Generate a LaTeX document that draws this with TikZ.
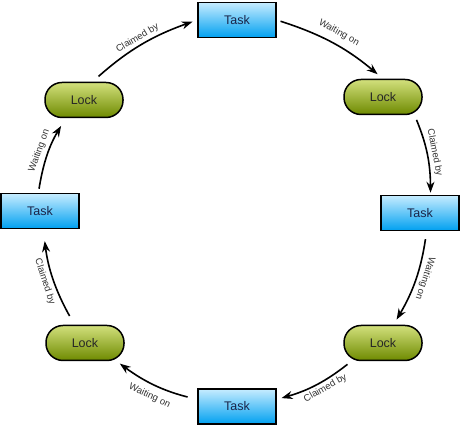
\documentclass[tikz,border=0pt]{standalone}
\usepackage{fontspec}
\setmainfont{Liberation Sans}
\usepackage{xcolor}
\usepackage{tikz}
\usetikzlibrary{
  arrows.meta,
  positioning,
}
\definecolor{taskhi}{HTML}{C6ECFF}
\definecolor{tasklo}{HTML}{00A0F0}
\definecolor{lockhi}{HTML}{D2E07C}
\definecolor{locklo}{HTML}{6E8A00}
\definecolor{tasktext}{HTML}{1A2448}

\begin{document}
\begin{tikzpicture}[
    x=1pt, y=1pt,
    task/.style={draw=black, line width=1.5pt, top color=taskhi, bottom color=tasklo,
      minimum width=78pt, minimum height=35pt, inner sep=0pt,
      font=\fontsize{12.5}{14}\selectfont, text=tasktext},
    lock/.style={draw=black, line width=1.5pt, top color=lockhi, bottom color=locklo,
      rounded corners=17pt, minimum width=78pt, minimum height=35pt, inner sep=0pt,
      font=\fontsize{12.5}{14}\selectfont, text=black!85},
    lbl/.style={font=\fontsize{9.5}{11}\selectfont, text=black!80, inner sep=2.5pt},
    flow/.style={-{Stealth[length=11pt,width=8pt]}, line width=1.6pt, bend left=11},
  ]
  \useasboundingbox (0,0) rectangle (474,425);

  % Tasks
  \node[task] (taskN) at (237,405) {Task};
  \node[task] (taskE) at (420,212) {Task};
  \node[task] (taskS) at (237,18.5) {Task};
  \node[task] (taskW) at (40,214) {Task};

  % Locks
  \node[lock] (lockNE) at (383,328) {Lock};
  \node[lock] (lockSE) at (383,82) {Lock};
  \node[lock] (lockSW) at (85,82) {Lock};
  \node[lock] (lockNW) at (84,325) {Lock};

  % Wait-for cycle
  \draw[flow, shorten <=8pt, shorten >=5pt] (lockNW.65) to
    node[lbl, midway, sloped, above] {Claimed by} (taskN.west);
  \draw[flow, shorten <=4pt, shorten >=7pt] (taskN.east) to
    node[lbl, pos=0.5, sloped, above, inner sep=7pt] {Waiting on} (lockNE.90);
  \draw[flow, shorten <=5pt, shorten >=2pt] (lockNE.-30) to
    node[lbl, midway, sloped, above] {Claimed by} (taskE.60);
  \draw[flow, shorten <=8pt, shorten >=6pt] (taskE.-70) to
    node[lbl, pos=0.45, sloped, allow upside down, above, inner sep=3.5pt] {Waiting on} (lockSE.60);
  \draw[flow, shorten <=5pt, shorten >=5pt] (lockSE.-150) to
    node[lbl, pos=0.42, sloped, below] {Claimed by} (taskS.10);
  \draw[flow, shorten <=10pt, shorten >=4pt] (taskS.170) to
    node[lbl, pos=0.5, sloped, below, inner sep=7pt] {Waiting on} (lockSW.-30);
  \draw[flow, shorten <=10pt, shorten >=12pt] (lockSW.120) to
    node[lbl, midway, sloped, below, inner sep=4pt] {Claimed by} (taskW.-80);
  \draw[flow, shorten <=4pt, shorten >=9pt] (taskW.95) to
    node[lbl, midway, sloped, above, inner sep=4pt] {Waiting on} (lockNW.-135);
\end{tikzpicture}
\end{document}
